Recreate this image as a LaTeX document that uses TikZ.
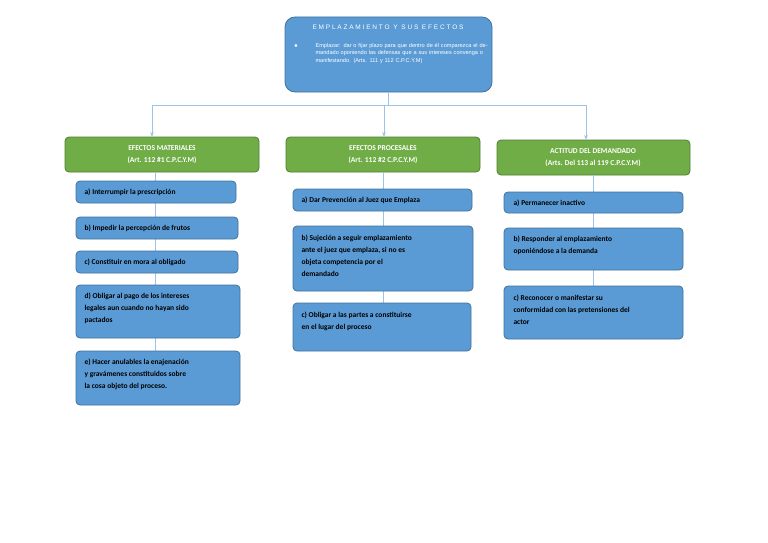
\documentclass[tikz,border=0pt]{standalone}
\usepackage{fontspec}
\setmainfont{Carlito}
\newfontfamily\hdfont{Liberation Sans}
\usetikzlibrary{arrows.meta}
\definecolor{bxblue}{HTML}{5B9BD5}
\definecolor{bxedge}{HTML}{41719C}
\definecolor{bxgreen}{HTML}{70AD47}
\definecolor{grnedge}{HTML}{507E32}
\definecolor{lnblue}{HTML}{9DC3E6}
\tikzset{
  item/.style={draw=bxedge, fill=bxblue, rounded corners=4pt, line width=0.8pt},
  head/.style={draw=grnedge, fill=bxgreen, rounded corners=4pt, line width=0.8pt},
  txt/.style={text=black, font=\bfseries\fontsize{7.5}{12}\selectfont, align=left, anchor=north west},
  htxt/.style={text=white, font=\fontsize{7.5}{12}\selectfont, align=center},
  link/.style={draw=lnblue, line width=0.8pt}
}
\begin{document}
\begin{tikzpicture}[x=1pt, y=-1pt]
\useasboundingbox (0,0) rectangle (768,543);
% top box
\draw[item, rounded corners=10pt] (285,17) rectangle (492,92);
\node[htxt, font=\hdfont\fontsize{6.5}{8}\selectfont] (title) at (388,27) {E M P L A Z A M I E N T O\ \ Y\ \ S U S\ \ E F E C T O S};
\node[text=white, font=\hdfont\fontsize{5.6}{7.2}\selectfont, align=left, anchor=north west, text width=178pt] (def) at (312,40)
  {Emplazar: dar o fijar plazo para que dentro de él comparezca el demandado oponiendo las defensas que a sus intereses convenga o manifestando. (Arts. 111 y 112 C.P.C.Y.M)};
\node[text=white, font=\fontsize{6}{6}\selectfont] (dot) at (296,46) {$\bullet$};
\coordinate (top) at (388,92);
\coordinate (bar) at (388,105);
\coordinate (lbar) at (152,105);
\coordinate (rbar) at (586,105);
% headers
\draw[head] (65,137) rectangle (259,172);
\node[htxt] (mat) at (162,154.5) {\bfseries EFECTOS MATERIALES\\\bfseries(Art. 112 \#1 C.P.C.Y.M)};
\draw[head] (286,137) rectangle (480,172);
\node[htxt] (pro) at (383,154.5) {\bfseries EFECTOS PROCESALES\\\bfseries(Art. 112 \#2 C.P.C.Y.M)};
\draw[head] (497,140) rectangle (690,175);
\node[htxt] (dem) at (593,157.5) {\bfseries ACTITUD DEL DEMANDADO\\\bfseries(Arts. Del 113 al 119 C.P.C.Y.M)};
% connectors
\draw[link] (top) -- (bar);
\draw[link] (lbar) -- (rbar);
\draw[link, -{Stealth[length=5pt]}] (lbar) -- (152,137);
\draw[link, -{Stealth[length=5pt]}] (384,105) -- (384,137);
\draw[link, -{Stealth[length=5pt]}] (rbar) -- (586,140);
\draw[link] (155,172) -- (155,351);
\draw[link] (383,172) -- (383,303);
\draw[link] (593,175) -- (593,286);
% left column
\draw[item] (76,181) rectangle (236,203);
\node[txt] (ma) at (81,185) {a) Interrumpir la prescripción};
\draw[item] (76,217) rectangle (238,239);
\node[txt] (mb) at (81,221) {b) Impedir la percepción de frutos};
\draw[item] (76,251) rectangle (238,273);
\node[txt] (mc) at (81,255) {c) Constituir en mora al obligado};
\draw[item] (76,285) rectangle (240,338);
\node[txt] (md) at (81,289) {d) Obligar al pago de los intereses\\legales aun cuando no hayan sido\\pactados};
\draw[item] (76,351) rectangle (240,405);
\node[txt] (me) at (81,355) {e) Hacer anulables la enajenación\\y gravámenes constituidos sobre\\la cosa objeto del proceso.};
% middle column
\draw[item] (293,189) rectangle (472,211);
\node[txt] (pa) at (298,193) {a) Dar Prevención al Juez que Emplaza};
\draw[item] (293,226) rectangle (473,291);
\node[txt] (pb) at (298,231) {b) Sujeción a seguir emplazamiento\\ante el juez que emplaza, si no es\\objeta competencia por el\\demandado};
\draw[item] (293,303) rectangle (471,351);
\node[txt] (pc) at (298,308) {c) Obligar a las partes a constituirse\\en el lugar del proceso};
% right column
\draw[item] (504,192) rectangle (683,213);
\node[txt] (da) at (510,196) {a) Permanecer inactivo};
\draw[item] (504,228) rectangle (683,270);
\node[txt] (db) at (510,232) {b) Responder al emplazamiento\\oponiéndose a la demanda};
\draw[item] (504,286) rectangle (683,339);
\node[txt] (dc) at (510,291) {c) Reconocer o manifestar su\\conformidad con las pretensiones del\\actor};
\end{tikzpicture}
\end{document}
